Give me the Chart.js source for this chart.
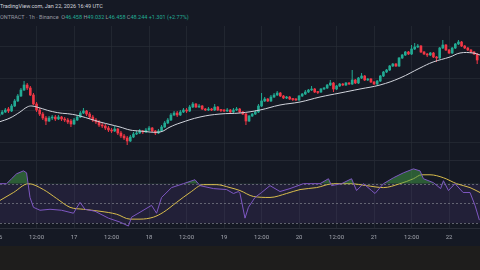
<!DOCTYPE html>
<html>
<head>
<meta charset="utf-8">
<script src="https://cdn.jsdelivr.net/npm/chart.js@4.4.1/dist/chart.umd.min.js"></script>
<style>
  html, body { margin: 0; padding: 0; width: 480px; height: 270px; overflow: hidden; background: #151924; }
  body { position: relative; font-family: Roboto, "Liberation Sans", sans-serif; }
  .hdr { position: absolute; left: 0; white-space: nowrap; font-size: 5.5px; color: #9598a1; }
  #hdr1 { top: 3px; color: #d1d4dc; }
  #hdr2 { top: 14px; }
  .up { color: #22ab94; }
  #priceWrap { position: absolute; left: 0; top: 26px; width: 480px; height: 134px; }
  #paneLine { position: absolute; left: 0; top: 160px; width: 480px; height: 1px; background: #242833; }
  #rsiWrap { position: absolute; left: 0; top: 161px; width: 480px; height: 85px; }
  #foot { position: absolute; left: 0; top: 246px; width: 480px; height: 24px; background: #1e1d1c; }
</style>
</head>
<body>
<div class="hdr" id="hdr1">TradingView.com, Jan 22, 2026 16:49 UTC</div>
<div class="hdr" id="hdr2">ONTRACT · 1h · Binance &nbsp;O<span class="up">46.458</span> H<span class="up">49.032</span> L<span class="up">46.458</span> C<span class="up">48.244</span> <span class="up">+1.301 (+2.77%)</span></div>
<div id="priceWrap"><canvas id="priceChart"></canvas></div>
<div id="paneLine"></div>
<div id="rsiWrap"><canvas id="rsiChart"></canvas></div>
<div id="foot"></div>
<script>
// 1h candles, index = hours since 16 Jan 00:00
const opens = [
  54, 56, 58, 61, 59, 64, 69, 74, 80, 85,
  82, 75, 66, 60, 56, 52, 49, 52, 53, 51,
  53, 51, 50, 49, 46, 50, 53, 57, 59, 56,
  53, 50, 48, 45, 44, 42, 40, 39, 41, 37,
  34, 32, 29, 33, 36, 37, 39, 38, 40, 42,
  39, 37, 39, 43, 47, 50, 55, 57, 55, 58,
  60, 59, 63, 66, 63, 64, 61, 60, 61, 60,
  63, 60, 60, 59, 60, 58, 60, 61, 58, 56,
  49, 54, 56, 58, 64, 69, 71, 69, 73, 75,
  77, 74, 72, 73, 71, 71, 70, 74, 76, 78,
  80, 81, 78, 78, 81, 82, 85, 87, 81, 84,
  86, 85, 87, 86, 90, 87, 92, 94, 90, 91,
  88, 86, 89, 94, 98, 100, 104, 106, 104, 112,
  115, 118, 116, 121, 123, 124, 118, 116, 115, 117,
  113, 112, 122, 125, 120, 117, 122, 126, 128, 124,
  122, 120, 118, 116
];
const closes = [
  56, 58, 60, 59, 64, 69, 74, 80, 85, 82,
  75, 66, 60, 56, 52, 49, 52, 53, 51, 53,
  51, 50, 48, 46, 50, 53, 57, 59, 56, 53,
  50, 48, 45, 44, 42, 40, 39, 41, 37, 34,
  32, 29, 33, 36, 37, 39, 38, 40, 42, 39,
  37, 39, 43, 47, 50, 55, 57, 55, 58, 60,
  59, 63, 66, 63, 64, 61, 60, 61, 60, 63,
  60, 59.5, 59, 60, 58, 60, 61, 58, 56, 49,
  54, 56, 58, 64, 69, 71, 69, 73, 75, 77,
  74, 72, 73, 71, 70.5, 70, 74, 76, 78, 80,
  81, 78, 77.5, 81, 82, 85, 87, 81, 84, 86,
  85, 87, 86, 90, 87, 92, 94, 90, 91, 88,
  86, 89, 94, 98, 100, 104, 106, 104, 112, 115,
  118, 116, 121, 123, 124, 118, 116, 115, 117, 113,
  112, 122, 125, 120, 117, 122, 126, 128, 124, 122,
  120, 118, 116, 110
];
const highs = [
  58, 60, 62, 63, 66, 71, 76, 82, 89, 87,
  84, 77, 68, 62, 58, 54, 54, 55, 55, 55,
  54, 53, 52, 51, 52, 55, 59, 62, 60, 58,
  55, 52, 50, 47, 46, 44, 42, 44, 42, 39,
  36, 34, 35, 38, 39, 41, 40, 42, 44, 43,
  40, 41, 45, 49, 52, 57, 59, 59, 60, 62,
  62, 65, 68, 67, 66, 65, 62, 63, 62, 66,
  64, 61, 61, 62, 61, 62, 63, 62, 59, 57,
  55, 57, 60, 66, 77, 73, 72, 75, 77, 79,
  78, 75, 74, 74, 72, 72, 75, 77, 80, 81,
  84, 82, 79, 82, 83, 86, 90, 88, 85, 87,
  87, 88, 88, 100, 91, 93, 97, 95, 92, 92,
  89, 90, 95, 99, 101, 105, 107, 107, 113, 116,
  119, 119, 125, 127, 126, 125, 119, 117, 118, 118,
  114, 123, 130, 126, 121, 123, 127, 130, 129, 125,
  123, 121, 119, 117
];
const lows = [
  52, 55, 57, 57, 58, 63, 68, 73, 79, 80,
  74, 65, 58, 54, 50, 45, 48, 50, 49, 50,
  49, 48, 46, 43, 45, 49, 52, 56, 54, 51,
  48, 46, 43, 42, 40, 38, 37, 38, 35, 32,
  30, 25, 28, 32, 35, 36, 36, 37, 39, 38,
  35, 36, 38, 42, 46, 49, 54, 53, 54, 57,
  57, 58, 62, 62, 62, 60, 59, 59, 59, 59,
  59, 58, 58, 58, 57, 57, 59, 57, 55, 45,
  48, 53, 55, 57, 63, 68, 68, 68, 72, 74,
  73, 71, 71, 70, 69, 69, 69, 73, 75, 77,
  79, 77, 76, 77, 80, 81, 84, 78, 80, 83,
  84, 84, 85, 85, 86, 86, 91, 89, 89, 87,
  85, 85, 88, 93, 97, 99, 103, 103, 103, 111,
  114, 115, 115, 120, 122, 117, 115, 113, 114, 112,
  108, 111, 121, 119, 116, 116, 121, 125, 123, 121,
  119, 117, 115, 106
];

// moving average on the price pane, read at sample hours
const maHours = [0, 3.5, 6.7, 9, 10.5, 13.1, 16.3, 19.5, 22.7, 25.9, 32.3, 38.7, 41.9, 45.1, 51.5, 54.7, 57.9, 64.3, 70.7, 77.1, 83.5, 89.9, 96.3, 102.7, 109.1, 115.5, 121.9, 128.3, 134.7, 138.9, 144.3, 147.5, 151.7, 153.9];
const maValues = [48, 52, 58, 63, 64, 62, 59, 57, 56, 54, 48, 43, 40, 39, 38, 43, 47, 53, 56, 57, 60, 65, 68, 73, 77, 81, 85, 92, 102, 108, 113, 117, 117, 115];

// RSI and its moving average
const rsiHours = [0.3, 2.4, 4.0, 5.6, 7.8, 8.8, 9.9, 11, 13.1, 16.3, 20, 23.8, 25.9, 27.5, 30.7, 35, 38.7, 41.4, 42.4, 45.1, 48.8, 50.4, 52, 55.2, 59, 62.7, 64.3, 68.6, 72.8, 75, 76.6, 77.1, 78.7, 79.8, 81.9, 84, 86.7, 89.9, 93.1, 97.4, 102.7, 105.4, 106.4, 109.6, 112.8, 114.4, 116.6, 119.2, 120.3, 123, 126.2, 129.4, 132.6, 134.7, 135.8, 139, 141.3, 142.2, 143.8, 145.9, 148.5, 150.7, 152.3, 153.7];
const rsiValues = [70, 70, 75, 80, 83, 81, 56, 46, 43, 44, 43, 40, 51, 44, 42, 35, 31, 27, 36, 41, 48, 40, 56, 66, 70, 74, 68, 65, 64, 60, 62, 60, 35, 46, 56, 61, 68, 62, 65, 70, 70, 75, 68, 70, 75, 63, 70, 63, 60, 70, 76, 81, 85, 83, 75, 71, 65, 73, 63, 70, 61, 61, 48, 33];
const rsiMaHours = [0.3, 4.6, 9.4, 14.2, 18.4, 22.7, 27, 32.3, 37.6, 41.9, 45.1, 49.4, 52.6, 56.8, 61.1, 65.4, 69.6, 73.9, 77.1, 81.4, 86.7, 92, 96.3, 101.6, 107, 112.3, 117.6, 123, 128.3, 132.6, 135.2, 137.9, 142.2, 146.4, 150.7, 153.9];
const rsiMaValues = [53, 61, 70, 64, 55, 46, 44, 42, 39, 34, 34, 36, 41, 51, 61, 69, 69, 66, 63, 57, 56, 60, 64, 66, 70, 70, 68, 66, 70, 75, 79, 79, 76, 70, 66, 61];
const rsiLevels = [70, 50, 30];

const tickHours = [0, 12, 24, 36, 48, 60, 72, 84, 96, 108, 120, 132, 144];
const tickLabels = ['16', '12:00', '17', '12:00', '18', '12:00', '19', '12:00', '20', '12:00', '21', '12:00', '22'];
const priceGrid = [28, 60, 92, 124];

const UP = '#22ab94';
const DOWN = '#f23645';
const GRID = 'rgba(42,46,57,0.6)';
const candleColors = closes.map((c, i) => c >= opens[i] ? UP : DOWN);

function timeAxis(showLabels) {
    return {
        type: 'linear',
        min: 0.3,
        max: 153.9,
        offset: false,
        grid: { color: GRID, drawTicks: false, offset: false },
        border: { display: showLabels, color: '#2a2e39' },
        ticks: {
            display: showLabels,
            color: '#a3a6af',
            font: { family: 'Roboto', size: 6 },
            padding: 6,
            autoSkip: false,
            maxRotation: 0,
            callback: v => tickLabels[tickHours.indexOf(v)]
        },
        afterBuildTicks: s => { s.ticks = tickHours.map(v => ({ value: v })); },
        afterFit: s => {
            s.height = showLabels ? 18 : 0;
            s.paddingLeft = 0;
            s.paddingRight = 0;
        }
    };
}

new Chart(document.getElementById('priceChart'), {
    type: 'bar',
    data: {
        datasets: [
            {
                type: 'line',
                data: maHours.map((h, i) => ({ x: h, y: maValues[i] })),
                borderColor: '#d1d4dc',
                borderWidth: 1,
                pointRadius: 0,
                tension: 0.4
            },
            {
                data: opens.map((o, i) => ({ x: i, y: [o, closes[i]] })),
                backgroundColor: candleColors,
                barThickness: 2,
                minBarLength: 1,
                grouped: false
            },
            {
                data: lows.map((l, i) => ({ x: i, y: [l, highs[i]] })),
                backgroundColor: candleColors,
                barThickness: 1,
                inflateAmount: 0,
                grouped: false
            }
        ]
    },
    options: {
        responsive: true,
        maintainAspectRatio: false,
        animation: false,
        layout: { padding: 0, autoPadding: false },
        plugins: { legend: { display: false }, tooltip: { enabled: false } },
        scales: {
            x: timeAxis(false),
            y: {
                min: 10,
                max: 144,
                grid: { color: GRID, drawTicks: false },
                border: { display: false },
                ticks: { display: false },
                afterBuildTicks: s => { s.ticks = priceGrid.map(v => ({ value: v })); },
                afterFit: s => { s.width = 0; }
            }
        }
    }
});

const rsiBand = {
    id: 'rsiBand',
    beforeDatasetsDraw(chart) {
        const { ctx, chartArea, scales: { y } } = chart;
        const top = y.getPixelForValue(rsiLevels[0]);
        const bottom = y.getPixelForValue(rsiLevels[2]);
        ctx.save();
        ctx.fillStyle = 'rgba(126,87,194,0.13)';
        ctx.fillRect(chartArea.left, top, chartArea.right - chartArea.left, bottom - top);
        ctx.strokeStyle = 'rgba(120,123,134,0.75)';
        ctx.lineWidth = 1;
        ctx.setLineDash([2, 2]);
        rsiLevels.forEach(v => {
            const py = Math.round(y.getPixelForValue(v)) + 0.5;
            ctx.beginPath();
            ctx.moveTo(chartArea.left, py);
            ctx.lineTo(chartArea.right, py);
            ctx.stroke();
        });
        ctx.restore();
    }
};

new Chart(document.getElementById('rsiChart'), {
    type: 'line',
    data: {
        datasets: [
            {
                data: rsiHours.map((h, i) => ({ x: h, y: rsiValues[i] })),
                borderColor: '#7e57c2',
                borderWidth: 1,
                pointRadius: 0,
                tension: 0,
                fill: { target: { value: 70 }, above: 'rgba(67,160,71,0.5)', below: 'rgba(0,0,0,0)' }
            },
            {
                data: rsiMaHours.map((h, i) => ({ x: h, y: rsiMaValues[i] })),
                borderColor: '#d9bd4c',
                borderWidth: 1,
                pointRadius: 0,
                cubicInterpolationMode: 'monotone'
            }
        ]
    },
    options: {
        responsive: true,
        maintainAspectRatio: false,
        animation: false,
        layout: { padding: 0, autoPadding: false },
        plugins: { legend: { display: false }, tooltip: { enabled: false } },
        scales: {
            x: timeAxis(true),
            y: { display: false, min: 25, max: 93 }
        }
    },
    plugins: [rsiBand]
});
</script>
</body>
</html>
